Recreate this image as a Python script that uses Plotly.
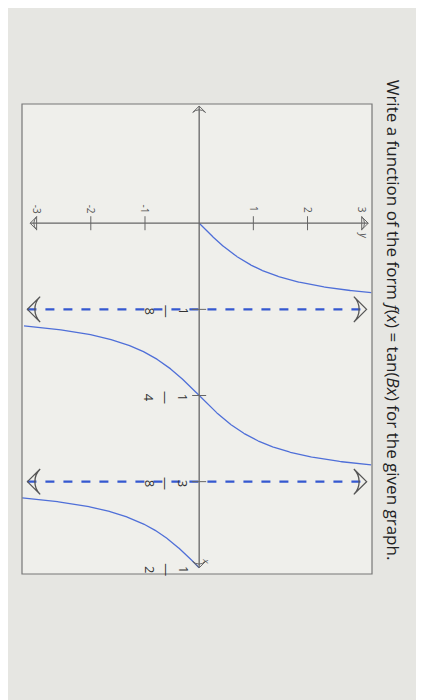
import numpy as np
import plotly.graph_objects as go

# the graph is photographed turned a quarter turn clockwise, so the plot's
# horizontal axis carries f(x) and the vertical (reversed) axis carries x
B = 4 * np.pi
asymptotes = [1 / 8, 3 / 8]
frac_ticks = [1 / 8, 1 / 4, 3 / 8, 1 / 2]
frac_labels = ["1", "1", "3", "1"]
frac_dens = ["8", "4", "8", "2"]
y_ticks = [-3, -2, -1, 1, 2, 3]

F_RANGE = [-3.27, 3.19]
X_RANGE = [0.509, -0.173]
BLUE = "#4f6fd8"
GRAY = "#666666"

fig = go.Figure()

branches = [(0.0, 0.125), (0.125, 0.375), (0.375, 0.5)]
for a, b in branches:
    xs = np.linspace(a + 1e-4, b - 1e-4, 600)
    ys = np.tan(B * xs)
    keep = (ys > F_RANGE[0]) & (ys < F_RANGE[1])
    fig.add_trace(go.Scatter(x=ys[keep], y=xs[keep], mode="lines",
                             line=dict(color=BLUE, width=1.3), hoverinfo="skip"))

for a in asymptotes:
    fig.add_trace(go.Scatter(x=[F_RANGE[0] + 0.1, F_RANGE[1] - 0.1], y=[a, a], mode="lines+markers",
                             line=dict(color="#3558d0", width=2.2, dash="dash"),
                             marker=dict(symbol="arrow-wide-open", size=18, angle=[-90, 90],
                                         color="#555555", line=dict(width=1.3, color="#555555"))))

# axes
fig.add_trace(go.Scatter(x=[-3.12, 3.12], y=[0, 0], mode="lines+markers",
                         line=dict(color=GRAY, width=1.3),
                         marker=dict(symbol="arrow-wide-open", size=9, angle=[-90, 90],
                                     color=GRAY, line=dict(width=1, color=GRAY))))
fig.add_trace(go.Scatter(x=[0, 0], y=[-0.17, 0.5], mode="lines+markers",
                         line=dict(color=GRAY, width=1.3),
                         marker=dict(symbol="arrow-wide-open", size=9, angle=[0, 180],
                                     color=GRAY, line=dict(width=1, color=GRAY))))
fig.add_trace(go.Scatter(x=y_ticks, y=[0] * len(y_ticks), mode="markers",
                         marker=dict(symbol="line-ns-open", size=10, color=GRAY,
                                     line=dict(width=1, color=GRAY))))
fig.add_trace(go.Scatter(x=[0] * 3, y=frac_ticks[:3], mode="markers",
                         marker=dict(symbol="line-ew-open", size=10, color=GRAY,
                                     line=dict(width=1, color=GRAY))))

for t in y_ticks:
    fig.add_annotation(x=t, y=-0.02, text=str(t), textangle=90, showarrow=False,
                       font=dict(size=10, color="#555555"))
for t, n, d in zip(frac_ticks, frac_labels, frac_dens):
    fig.add_annotation(x=-0.6, y=t + 0.003, text=f"{n}<br>—<br>{d}", textangle=90, showarrow=False,
                       font=dict(size=13, color="#333333"))
fig.add_annotation(x=3.05, y=0.018, text="<i>y</i>", textangle=90, showarrow=False,
                   font=dict(size=10, color="#555555"))
fig.add_annotation(x=0.12, y=0.49, text="<i>x</i>", textangle=90, showarrow=False,
                   font=dict(size=9, color="#555555"))

fig.add_annotation(xref="paper", yref="paper", x=1.1, y=0.54, textangle=90, showarrow=False,
                   text="Write a function of the form <i>f</i>(<i>x</i>) = tan(<i>Bx</i>) for the given graph.",
                   font=dict(family="Open Sans", size=17, color="#222222"))

fig.update_xaxes(range=F_RANGE, visible=False, showgrid=False, zeroline=False)
fig.update_yaxes(range=X_RANGE, visible=False, showgrid=False, zeroline=False)
fig.add_shape(type="rect", xref="paper", yref="paper", x0=0, y0=0, x1=1, y1=1,
              line=dict(color="#777777", width=1.2))

fig.update_layout(width=424, height=700, showlegend=False,
                  margin=dict(l=14, r=60, t=96, b=134),
                  paper_bgcolor="#e6e6e2", plot_bgcolor="#efefeb")

fig.write_html("out.html")
